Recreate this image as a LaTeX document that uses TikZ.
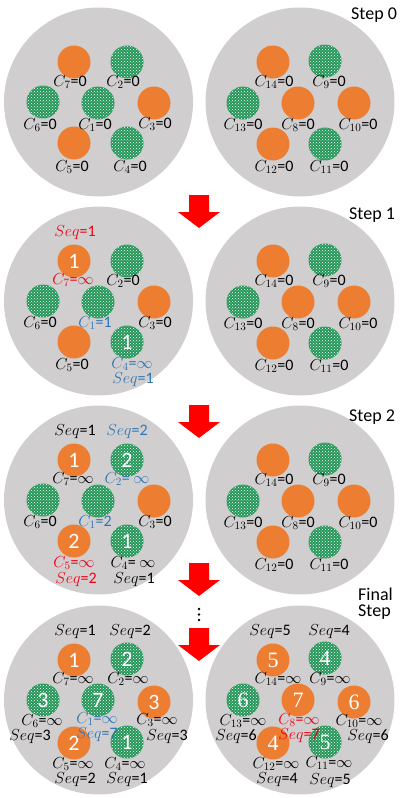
\RequirePackage{fix-cm}
\documentclass[tikz,border=0pt]{standalone}
\usepackage{fontspec}
\setmainfont{Carlito}
\newfontfamily\numserif{Liberation Serif}
\usetikzlibrary{patterns}
\definecolor{bggray}{RGB}{208,206,206}
\definecolor{orng}{RGB}{237,125,49}
\definecolor{grn}{RGB}{35,150,88}
\definecolor{blu}{RGB}{46,117,182}
\definecolor{redt}{RGB}{240,0,20}
\newcommand\labfont{\fontsize{16}{16}\selectfont}
\newcommand\numfont{\fontsize{22}{22}\selectfont}
\newcommand\stepfont{\fontsize{18}{18}\selectfont}
\begin{document}
\begin{tikzpicture}[x=1pt,y=-1pt,
  bigc/.style={circle,fill=bggray,minimum size=189pt,inner sep=0pt},
  oc/.style={circle,fill=orng,minimum size=33pt,inner sep=0pt,text=white,font=\numfont},
  gc/.style={circle,minimum size=33pt,inner sep=0pt,preaction={fill=grn},pattern=crosshatch dots,pattern color=white,text=white,font=\numfont},
  lab/.style={font=\labfont,inner sep=0pt},
  redl/.style={lab,text=redt},
  bluel/.style={lab,text=blu},
  steplab/.style={font=\stepfont,anchor=west,inner sep=0pt,align=left},
  arrowfill/.style={fill=red}]
\useasboundingbox (0,0) rectangle (404,798);
% big panels
\foreach \r/\cy in {0/102,1/301,2/500,3/700}{
  \node[bigc] (L\r) at (98.5,\cy) {};
  \node[bigc] (R\r) at (300,\cy) {};
}
% right panels, steps 0-2
\foreach \r/\cy in {0/102,1/301,2/500}{
  \node[oc] (R\r-c14) at (273,\cy-40) {};
  \node[gc] (R\r-c9)  at (325,\cy-41) {};
  \node[gc] (R\r-c13) at (243,\cy+1) {};
  \node[oc] (R\r-c8)  at (298,\cy+1) {};
  \node[oc] (R\r-c10) at (354,\cy+1) {};
  \node[oc] (R\r-c12) at (273,\cy+42) {};
  \node[gc] (R\r-c11) at (325,\cy+42) {};
  \node[lab] (R\r-l14) at (274,\cy-20) {$C_{14}$=0};
  \node[lab] (R\r-l9)  at (329,\cy-20) {$C_{9}$=0};
  \node[lab] (R\r-l13) at (243,\cy+23) {$C_{13}$=0};
  \node[lab] (R\r-l8)  at (298,\cy+23) {$C_{8}$=0};
  \node[lab] (R\r-l10) at (358,\cy+23) {$C_{10}$=0};
  \node[lab] (R\r-l12) at (274,\cy+65) {$C_{12}$=0};
  \node[lab] (R\r-l11) at (329,\cy+65) {$C_{11}$=0};
}
% left panel, step 0
\node[oc] (L0-c7) at (74,62) {};
\node[gc] (L0-c2) at (127,62) {};
\node[gc] (L0-c6) at (43,102) {};
\node[gc] (L0-c1) at (98,103) {};
\node[oc] (L0-c3) at (154,103) {};
\node[oc] (L0-c5) at (74,143) {};
\node[gc] (L0-c4) at (127,143) {};
\node[lab] (L0-l7) at (70,82) {$C_{7}$=0};
\node[lab] (L0-l2) at (123,82) {$C_{2}$=0};
\node[lab] (L0-l6) at (40,125) {$C_{6}$=0};
\node[lab] (L0-l1) at (95,125) {$C_{1}$=0};
\node[lab] (L0-l3) at (155,124) {$C_{3}$=0};
\node[lab] (L0-l5) at (72,167) {$C_{5}$=0};
\node[lab] (L0-l4) at (130,167) {$C_{4}$=0};
% left panel, step 1
\node[oc] (L1-c7) at (74,261) {1};
\node[gc] (L1-c2) at (127,261) {};
\node[gc] (L1-c6) at (43,301) {};
\node[gc] (L1-c1) at (98,302) {};
\node[oc] (L1-c3) at (154,302) {};
\node[oc] (L1-c5) at (74,342) {};
\node[gc] (L1-c4) at (127,342) {1};
\node[redl] (L1-s7) at (75,233) {$Seq$=1};
\node[redl] (L1-l7) at (73,280) {$C_{7}$=$\infty$};
\node[lab] (L1-l2) at (123,281) {$C_{2}$=0};
\node[lab] (L1-l6) at (40,323) {$C_{6}$=0};
\node[bluel] (L1-l1) at (95,323) {$C_{1}$=1};
\node[lab] (L1-l3) at (155,323) {$C_{3}$=0};
\node[lab] (L1-l5) at (72,365) {$C_{5}$=0};
\node[bluel] (L1-l4) at (132,364) {$C_{4}$=$\infty$};
\node[bluel] (L1-s4) at (133,380) {$Seq$=1};
% left panel, step 2
\node[oc] (L2-c7) at (74,460) {1};
\node[gc] (L2-c2) at (127,460) {2};
\node[gc] (L2-c6) at (43,500) {};
\node[gc] (L2-c1) at (98,501) {};
\node[oc] (L2-c3) at (154,501) {};
\node[oc] (L2-c5) at (74,541) {2};
\node[gc] (L2-c4) at (127,541) {1};
\node[lab] (L2-s7) at (75,432) {$Seq$=1};
\node[bluel] (L2-s2) at (127,432) {$Seq$=2};
\node[lab] (L2-l7) at (73,479) {$C_{7}$=$\infty$};
\node[bluel] (L2-l2) at (127,479) {$C_{2}$= $\infty$};
\node[lab] (L2-l6) at (40,522) {$C_{6}$=0};
\node[bluel] (L2-l1) at (95,522) {$C_{1}$=2};
\node[lab] (L2-l3) at (155,522) {$C_{3}$=0};
\node[redl] (L2-l5) at (74,563) {$C_{5}$=$\infty$};
\node[redl] (L2-s5) at (76,580) {$Seq$=2};
\node[lab] (L2-l4) at (133,563) {$C_{4}$= $\infty$};
\node[lab] (L2-s4) at (134,580) {$Seq$=1};
% left panel, final step
\node[oc] (L3-c7) at (74,660) {1};
\node[gc] (L3-c2) at (127,659) {2};
\node[gc] (L3-c6) at (43,700) {3};
\node[gc] (L3-c1) at (98,700) {7};
\node[oc] (L3-c3) at (154,702) {3};
\node[oc] (L3-c5) at (74,743) {2};
\node[gc] (L3-c4) at (127,742) {1};
\node[lab] (L3-s7) at (75,632) {$Seq$=1};
\node[lab] (L3-s2) at (130,632) {$Seq$=2};
\node[lab] (L3-l7) at (73,679) {$C_{7}$=$\infty$};
\node[lab] (L3-l2) at (128,679) {$C_{2}$=$\infty$};
\node[lab] (L3-l6) at (42,721) {$C_{6}$=$\infty$};
\node[lab] (L3-s6) at (30,737) {$Seq$=3};
\node[bluel] (L3-l1) at (97,719) {$C_{1}$=$\infty$};
\node[bluel] (L3-s1) at (97,735) {$Seq$=7};
\node[lab] (L3-l3) at (157,720) {$C_{3}$=$\infty$};
\node[lab] (L3-s3) at (167,737) {$Seq$=3};
\node[lab] (L3-l5) at (73,764) {$C_{5}$=$\infty$};
\node[lab] (L3-s5) at (75,780) {$Seq$=2};
\node[lab] (L3-l4) at (125,764) {$C_{4}$=$\infty$};
\node[lab] (L3-s4) at (127,780) {$Seq$=1};
% right panel, final step
\node[oc,font=\numfont\numserif] (R3-c14) at (273,660) {5};
\node[gc,font=\numfont\numserif] (R3-c9)  at (325,658) {4};
\node[gc,font=\numfont\numserif] (R3-c13) at (243,700) {6};
\node[oc,font=\numfont\numserif] (R3-c8)  at (298,700) {7};
\node[oc,font=\numfont\numserif] (R3-c10) at (354,702) {6};
\node[oc,font=\numfont\numserif] (R3-c12) at (273,743) {4};
\node[gc,font=\numfont\numserif] (R3-c11) at (325,742) {5};
\node[lab] (R3-s14) at (270,632) {$Seq$=5};
\node[lab] (R3-s9)  at (329,632) {$Seq$=4};
\node[lab] (R3-l14) at (278,679) {$C_{14}$=$\infty$};
\node[lab] (R3-l9)  at (330,679) {$C_{9}$=$\infty$};
\node[lab] (R3-l13) at (243,721) {$C_{13}$=$\infty$};
\node[lab] (R3-s13) at (236,737) {$Seq$=6};
\node[redl] (R3-l8) at (299,720) {$C_{8}$=$\infty$};
\node[redl] (R3-s8) at (299,736) {$Seq$=7};
\node[lab] (R3-l10) at (359,721) {$C_{10}$=$\infty$};
\node[lab] (R3-s10) at (368,737) {$Seq$=6};
\node[lab] (R3-l12) at (276,764) {$C_{12}$=$\infty$};
\node[lab] (R3-s12) at (277,780) {$Seq$=4};
\node[lab] (R3-l11) at (329,763) {$C_{11}$=$\infty$};
\node[lab] (R3-s11) at (330,781) {$Seq$=5};
% step labels
\node[steplab] (st0) at (351,15) {Step 0};
\node[steplab] (st1) at (349,215) {Step 1};
\node[steplab] (st2) at (349,417) {Step 2};
\node[steplab,anchor=north west] (st3) at (358,588) {Final\\[-2pt]Step};
% red arrows
\foreach \t in {195,405,563,628}{
  \fill[arrowfill] (189,\t) -- (209,\t) -- (209,\t+17) -- (220,\t+17) -- (199,\t+33)
    -- (178,\t+17) -- (189,\t+17) -- cycle;
}
% ellipsis dots
\foreach \d in {609,614.5,620}{
  \fill (199,\d) circle (1.4pt);
}
\end{tikzpicture}
\end{document}
